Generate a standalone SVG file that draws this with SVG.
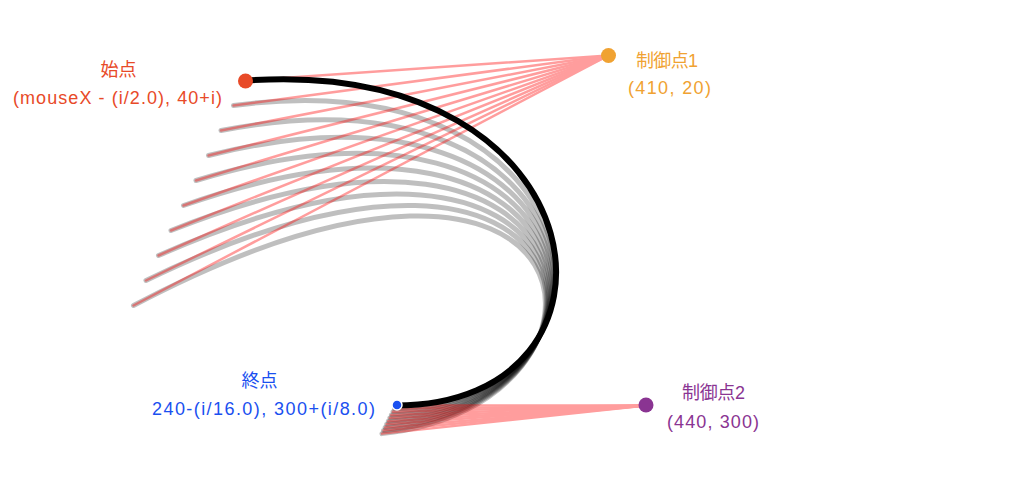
<svg xmlns="http://www.w3.org/2000/svg" width="1024" height="483" viewBox="0 0 1024 483">
<style>
.g{fill:none;stroke:#000;stroke-opacity:0.25;stroke-width:5;stroke-linecap:round}
.r{stroke:#ff0000;stroke-width:2.5;stroke-linecap:round}
.main{fill:none;stroke:#000;stroke-width:6;stroke-linecap:round}
.cj{font-family:"Liberation Sans","Noto Sans CJK JP",sans-serif;font-size:18px}
.la{font-family:"Liberation Sans","Noto Sans CJK JP",sans-serif;font-size:18px}
.cs{fill:#e84a28}.c1{fill:#f0a232}.c2{fill:#8a3492}.ce{fill:#1a50f0}
</style>
<rect width="1024" height="483" fill="#fff"/>
<g id="connectors">
<g id="curves">
<path class="g" d="M233.5,105.5 C608.5,55.5 646,405.5 394.44,408.63"/>
<path class="g" d="M221,130.5 C608.5,55.5 646,405.5 392.88,411.75"/>
<path class="g" d="M208.5,155.5 C608.5,55.5 646,405.5 391.31,414.88"/>
<path class="g" d="M196,180.5 C608.5,55.5 646,405.5 389.75,418"/>
<path class="g" d="M183.5,205.5 C608.5,55.5 646,405.5 388.19,421.13"/>
<path class="g" d="M171,230.5 C608.5,55.5 646,405.5 386.63,424.25"/>
<path class="g" d="M158.5,255.5 C608.5,55.5 646,405.5 385.06,427.38"/>
<path class="g" d="M146,280.5 C608.5,55.5 646,405.5 383.5,430.5"/>
<path class="g" d="M133.5,305.5 C608.5,55.5 646,405.5 381.94,433.63"/>
</g>
<g id="handles" opacity="0.38">
<line class="r" x1="246" y1="80.5" x2="608.5" y2="55.5"/>
<line class="r" x1="233.5" y1="105.5" x2="608.5" y2="55.5"/>
<line class="r" x1="221" y1="130.5" x2="608.5" y2="55.5"/>
<line class="r" x1="208.5" y1="155.5" x2="608.5" y2="55.5"/>
<line class="r" x1="196" y1="180.5" x2="608.5" y2="55.5"/>
<line class="r" x1="183.5" y1="205.5" x2="608.5" y2="55.5"/>
<line class="r" x1="171" y1="230.5" x2="608.5" y2="55.5"/>
<line class="r" x1="158.5" y1="255.5" x2="608.5" y2="55.5"/>
<line class="r" x1="146" y1="280.5" x2="608.5" y2="55.5"/>
<line class="r" x1="133.5" y1="305.5" x2="608.5" y2="55.5"/>
<line class="r" x1="396" y1="405.5" x2="646" y2="405.5"/>
<line class="r" x1="394.44" y1="408.63" x2="646" y2="405.5"/>
<line class="r" x1="392.88" y1="411.75" x2="646" y2="405.5"/>
<line class="r" x1="391.31" y1="414.88" x2="646" y2="405.5"/>
<line class="r" x1="389.75" y1="418" x2="646" y2="405.5"/>
<line class="r" x1="388.19" y1="421.13" x2="646" y2="405.5"/>
<line class="r" x1="386.63" y1="424.25" x2="646" y2="405.5"/>
<line class="r" x1="385.06" y1="427.38" x2="646" y2="405.5"/>
<line class="r" x1="383.5" y1="430.5" x2="646" y2="405.5"/>
<line class="r" x1="381.94" y1="433.63" x2="646" y2="405.5"/>
</g>
<path id="main-curve" class="main" d="M246,80.5 C608.5,55.5 646,405.5 396,405.5"/>
</g>
<g id="start">
<circle cx="245.5" cy="81" r="7.5" class="cs"/>
<text class="cj cs" x="118.5" y="76" text-anchor="middle">始点</text>
<text class="la cs" x="13" y="103.5" textLength="209" lengthAdjust="spacing">(mouseX - (i/2.0), 40+i)</text>
</g>
<g id="control1">
<circle cx="608.5" cy="55.5" r="7.5" class="c1"/>
<text class="cj c1" x="636" y="66.5" textLength="62" lengthAdjust="spacing">制御点1</text>
<text class="la c1" x="628" y="93.5" textLength="83" lengthAdjust="spacing">(410, 20)</text>
</g>
<g id="control2">
<circle cx="646" cy="405" r="7.5" class="c2"/>
<text class="cj c2" x="682" y="398.5" textLength="63" lengthAdjust="spacing">制御点2</text>
<text class="la c2" x="667" y="427.5" textLength="92" lengthAdjust="spacing">(440, 300)</text>
</g>
<g id="end">
<circle cx="397" cy="405" r="5" class="ce" stroke="#fff" stroke-width="1.5"/>
<text class="cj ce" x="259.5" y="386.5" text-anchor="middle">終点</text>
<text class="la ce" x="152" y="414.5" textLength="223" lengthAdjust="spacing">240-(i/16.0), 300+(i/8.0)</text>
</g>
</svg>
